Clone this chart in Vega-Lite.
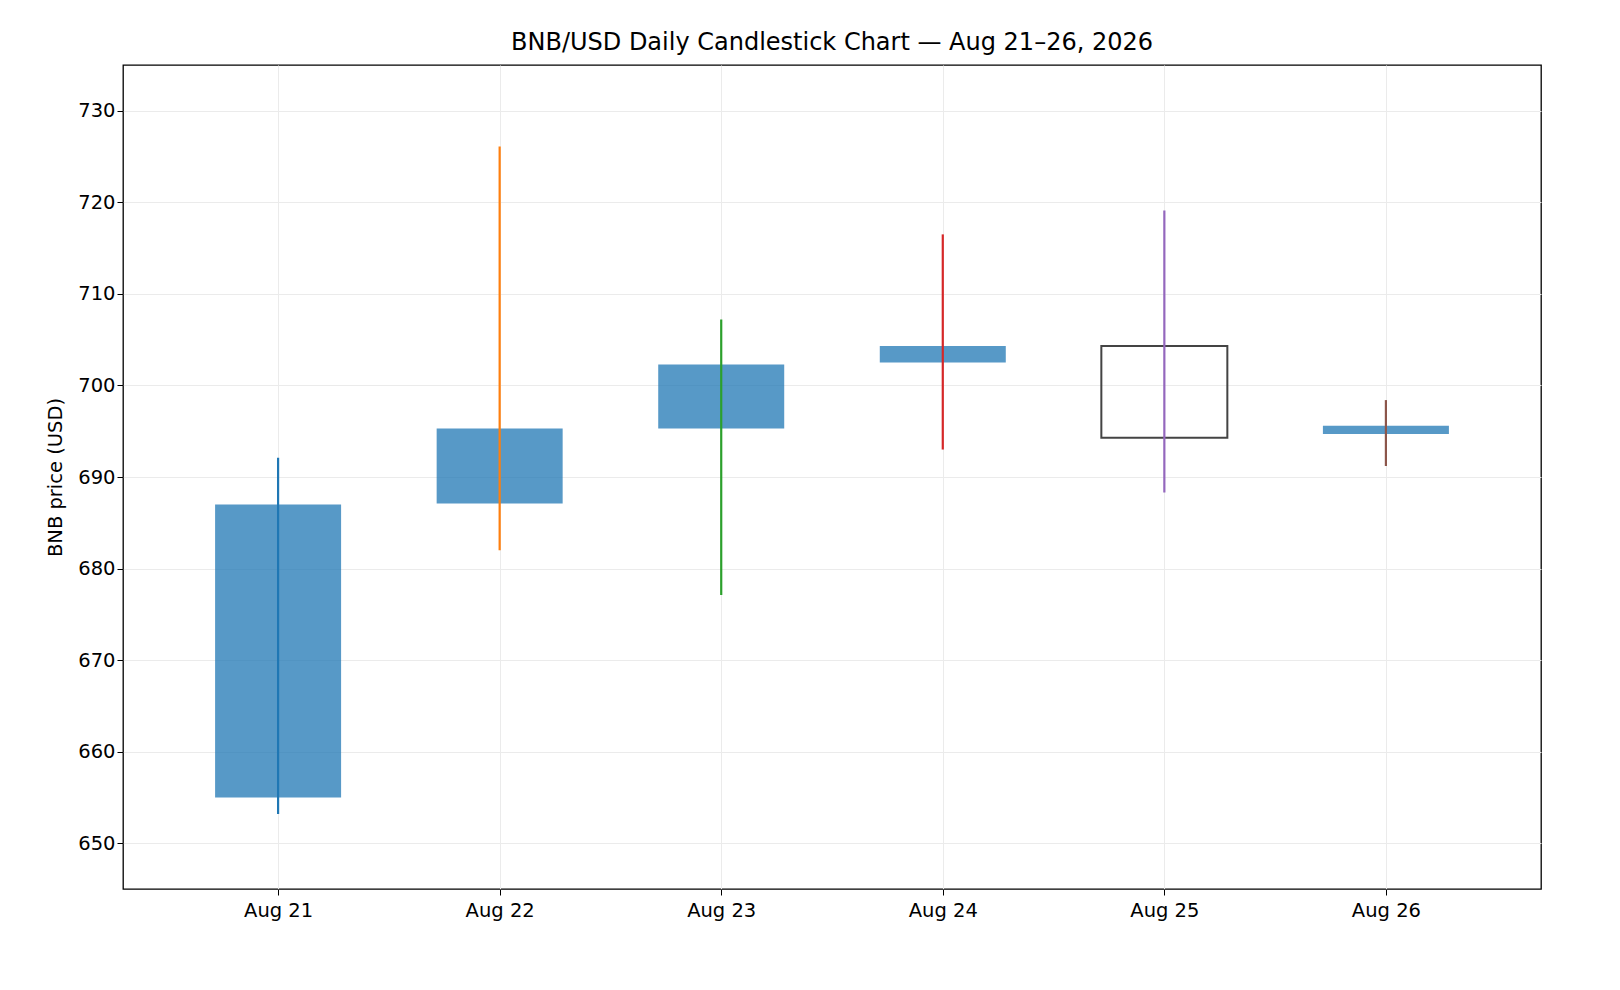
{
  "$schema": "https://vega.github.io/schema/vega-lite/v6.json",
  "width": 1418,
  "height": 824,
  "autosize": {"type": "none"},
  "padding": {"left": 123, "top": 65, "right": 79, "bottom": 101},
  "background": "white",
  "title": {"text": "BNB/USD Daily Candlestick Chart — Aug 21–26, 2026", "fontSize": 24, "fontWeight": "normal", "font": "DejaVu Sans", "offset": 10},
  "config": {
    "font": "DejaVu Sans",
    "view": {"stroke": "black", "strokeWidth": 1.3},
    "axis": {"labelFontSize": 19.5, "titleFontSize": 19.5, "titleFontWeight": "normal", "labelColor": "black", "titleColor": "black", "tickColor": "black", "domain": false, "gridColor": "#ebebeb", "tickSize": 6}
  },
  "data": {"values": [
    {"day": "Aug 21", "open": 655, "close": 687, "low": 653.2, "high": 692.1, "hollow": false},
    {"day": "Aug 22", "open": 687.1, "close": 695.3, "low": 682, "high": 726.1, "hollow": false},
    {"day": "Aug 23", "open": 695.3, "close": 702.3, "low": 677.1, "high": 707.2, "hollow": false},
    {"day": "Aug 24", "open": 702.5, "close": 704.3, "low": 693, "high": 716.5, "hollow": false},
    {"day": "Aug 25", "open": 704.3, "close": 694.3, "low": 688.3, "high": 719.1, "hollow": true},
    {"day": "Aug 26", "open": 694.7, "close": 695.6, "low": 691.2, "high": 698.4, "hollow": false}
  ]},
  "encoding": {
    "x": {"field": "day", "type": "ordinal", "scale": {"type": "point", "padding": 0.7}, "axis": {"title": null, "labelAngle": 0, "grid": true, "labelPadding": 6}}
  },
  "layer": [
    {
      "transform": [{"filter": "!datum.hollow"}],
      "mark": {"type": "bar", "size": 126, "color": "#1f77b4", "opacity": 0.75},
      "encoding": {
        "y": {"field": "open", "type": "quantitative", "scale": {"domain": [645, 735], "nice": false, "zero": false}, "axis": {"title": "BNB price (USD)", "values": [650, 660, 670, 680, 690, 700, 710, 720, 730], "grid": true, "titlePadding": 12}},
        "y2": {"field": "close"}
      }
    },
    {
      "transform": [{"filter": "datum.hollow"}],
      "mark": {"type": "bar", "size": 126, "fill": null, "fillOpacity": 0, "stroke": "#444444", "strokeWidth": 2},
      "encoding": {
        "y": {"field": "open", "type": "quantitative"},
        "y2": {"field": "close"}
      }
    },
    {
      "mark": {"type": "rule", "strokeWidth": 2.2},
      "encoding": {
        "y": {"field": "low", "type": "quantitative"},
        "y2": {"field": "high"},
        "color": {"field": "day", "type": "nominal", "legend": null, "scale": {"range": ["#1f77b4", "#ff7f0e", "#2ca02c", "#d62728", "#9467bd", "#8c564b"]}}
      }
    }
  ]
}
